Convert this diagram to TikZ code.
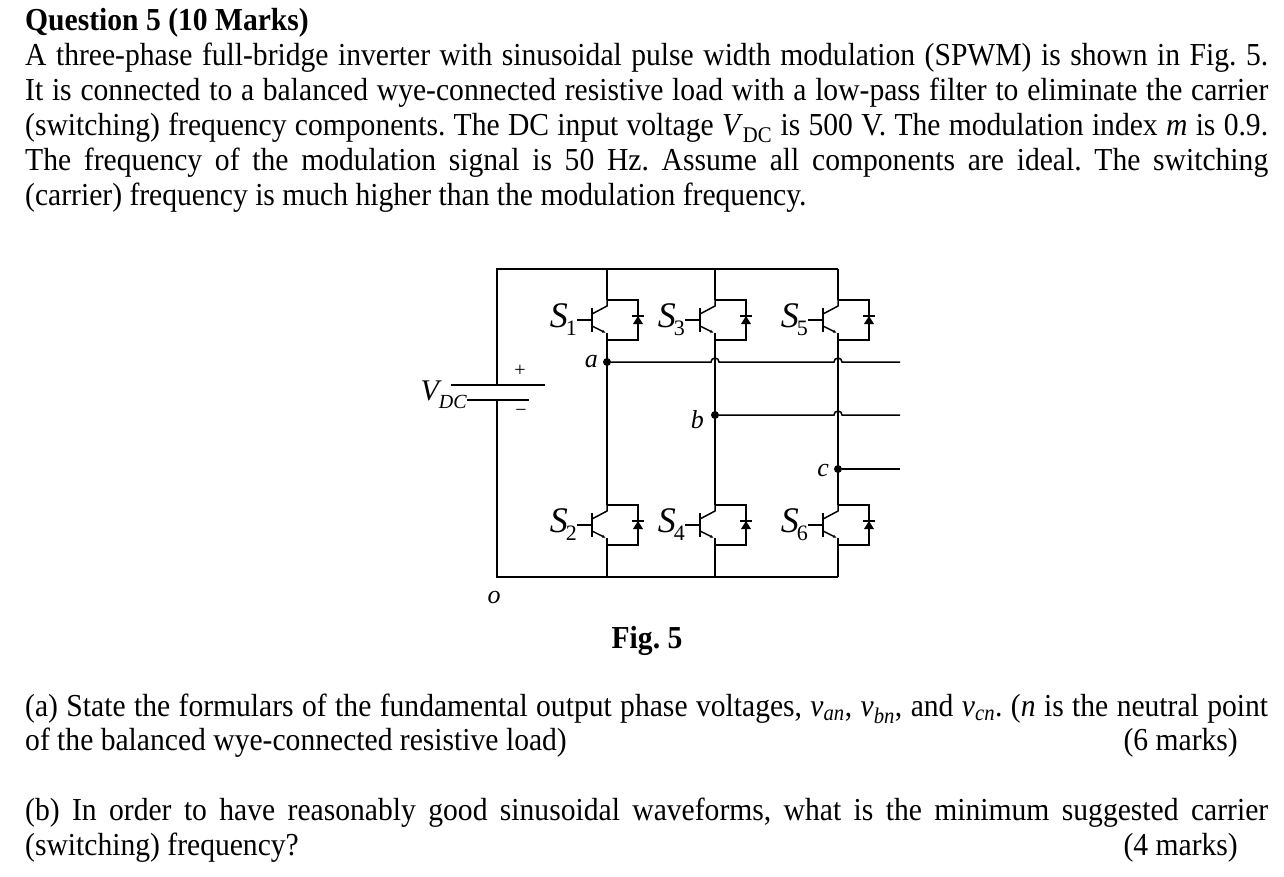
\documentclass[tikz,border=0pt]{standalone}
\usepackage{fontspec}
\setmainfont{Liberation Serif}
\newfontfamily\condf[FakeStretch=0.925]{Liberation Serif}
\usetikzlibrary{arrows.meta}
\frenchspacing
\newcommand{\sw}[3]{% leg x, box top y, label
 \begin{scope}[shift={(#1,#2)}]
  \draw[w] (0,0) -- (31,0) -- (31,40) -- (0,40);
  \draw[w] (0,0) -- (0,6) -- (-15,14);
  \draw[w] (-15,8) -- (-15,32);
  \draw[w] (-30,20) -- (-15,20);
  \draw[w,-{Latex[length=4pt,width=3pt]}] (-15,26) -- (-1,33);
  \draw[w] (0,33) -- (0,40);
  \fill (26,24) -- (36,24) -- (31,16) -- cycle;
  \draw[w] (25,16) -- (37,16);
  \node[lab,anchor=east] (#3) at (-30,20) {\fontsize{36}{36}\selectfont\textit{S}\kern-2pt\raisebox{-8pt}{\fontsize{22}{22}\selectfont #3}};
 \end{scope}}
\begin{document}
\begin{tikzpicture}[x=1pt,y=-1pt,w/.style={line width=1.5pt},lab/.style={inner sep=0pt},
 txt/.style={anchor=west,inner sep=0pt,font=\condf\fontsize{32}{35}\selectfont},
 dot/.style={circle,fill,inner sep=0pt,minimum size=8pt}]
\useasboundingbox (0,0) rectangle (1284,876);
\def\L{\makebox[1243pt][s]}
\node[txt] (t0) at (25,23) {\textbf{Question 5 (10 Marks)}};
\node[txt] (t1) at (25,58) {\L{A three-phase full-bridge inverter with sinusoidal pulse width modulation (SPWM) is shown in Fig. 5.}};
\node[txt] (t2) at (25,93) {\L{It is connected to a balanced wye-connected resistive load with a low-pass filter to eliminate the carrier}};
\node[txt] (t3) at (25,128) {\L{(switching) frequency components. The DC input voltage \textit{V}\textsubscript{DC} is 500 V. The modulation index \textit{m} is 0.9.}};
\node[txt] (t4) at (25,163) {\L{The frequency of the modulation signal is 50 Hz. Assume all components are ideal. The switching}};
\node[txt] (t5) at (25,198) {(carrier) frequency is much higher than the modulation frequency.};
\node[txt,anchor=center] (fig) at (647,641) {\textbf{Fig. 5}};
\node[txt] (a1) at (25,709) {\L{(a) State the formulars of the fundamental output phase voltages, \textit{v\textsubscript{an}}, \textit{v\textsubscript{bn}}, and \textit{v\textsubscript{cn}}. (\textit{n} is the neutral point}};
\node[txt] (a2) at (25,743) {of the balanced wye-connected resistive load)};
\node[txt,anchor=east] (a3) at (1238,743) {(6 marks)};
\node[txt] (b1) at (25,813) {\L{(b) In order to have reasonably good sinusoidal waveforms, what is the minimum suggested carrier}};
\node[txt] (b2) at (25,848) {(switching) frequency?};
\node[txt,anchor=east] (b3) at (1238,848) {(4 marks)};
% circuit
\draw[w] (497,385) -- (497,269) -- (838,269);
\draw[w] (497,400) -- (497,577) -- (838,577);
\draw[w] (451,385) -- (545,385);
\draw[w] (467,400) -- (529,400);
\node[lab,anchor=east] (vdc) at (467,395) {\fontsize{30}{30}\selectfont\textit{V}\kern-3pt\raisebox{-8pt}{\fontsize{20}{20}\selectfont\textit{DC}}};
\node[lab] (plus) at (520,371) {\fontsize{20}{20}\selectfont +};
\node[lab] (minus) at (521,413) {\fontsize{20}{20}\selectfont −};
\foreach \x in {607,715,838}{
 \draw[w] (\x,269) -- (\x,300);
 \draw[w] (\x,340) -- (\x,505);
 \draw[w] (\x,545) -- (\x,577);}
\sw{607}{300}{1}\sw{715}{300}{3}\sw{838}{300}{5}
\sw{607}{505}{2}\sw{715}{505}{4}\sw{838}{505}{6}
\node[dot] (na) at (607,362) {};
\node[dot] (nb) at (715,415) {};
\node[dot] (nc) at (838,469) {};
\coordinate (ea) at (900,362);
\coordinate (eb) at (900,415);
\coordinate (ec) at (900,469);
\draw[w] (na) -- (711,362) arc[start angle=180,end angle=360,radius=4] -- (834,362) arc[start angle=180,end angle=360,radius=4] -- (ea);
\draw[w] (nb) -- (834,415) arc[start angle=180,end angle=360,radius=4] -- (eb);
\draw[w] (nc) -- (ec);
\node[lab,anchor=east] (la) at (598,362) {\fontsize{26}{26}\selectfont\textit{a}};
\node[lab,anchor=east] (lb) at (704,420) {\fontsize{26}{26}\selectfont\textit{b}};
\node[lab,anchor=east] (lc) at (829,470) {\fontsize{26}{26}\selectfont\textit{c}};
\node[lab] (lo) at (494,597) {\fontsize{26}{26}\selectfont\textit{o}};
\end{tikzpicture}
\end{document}
